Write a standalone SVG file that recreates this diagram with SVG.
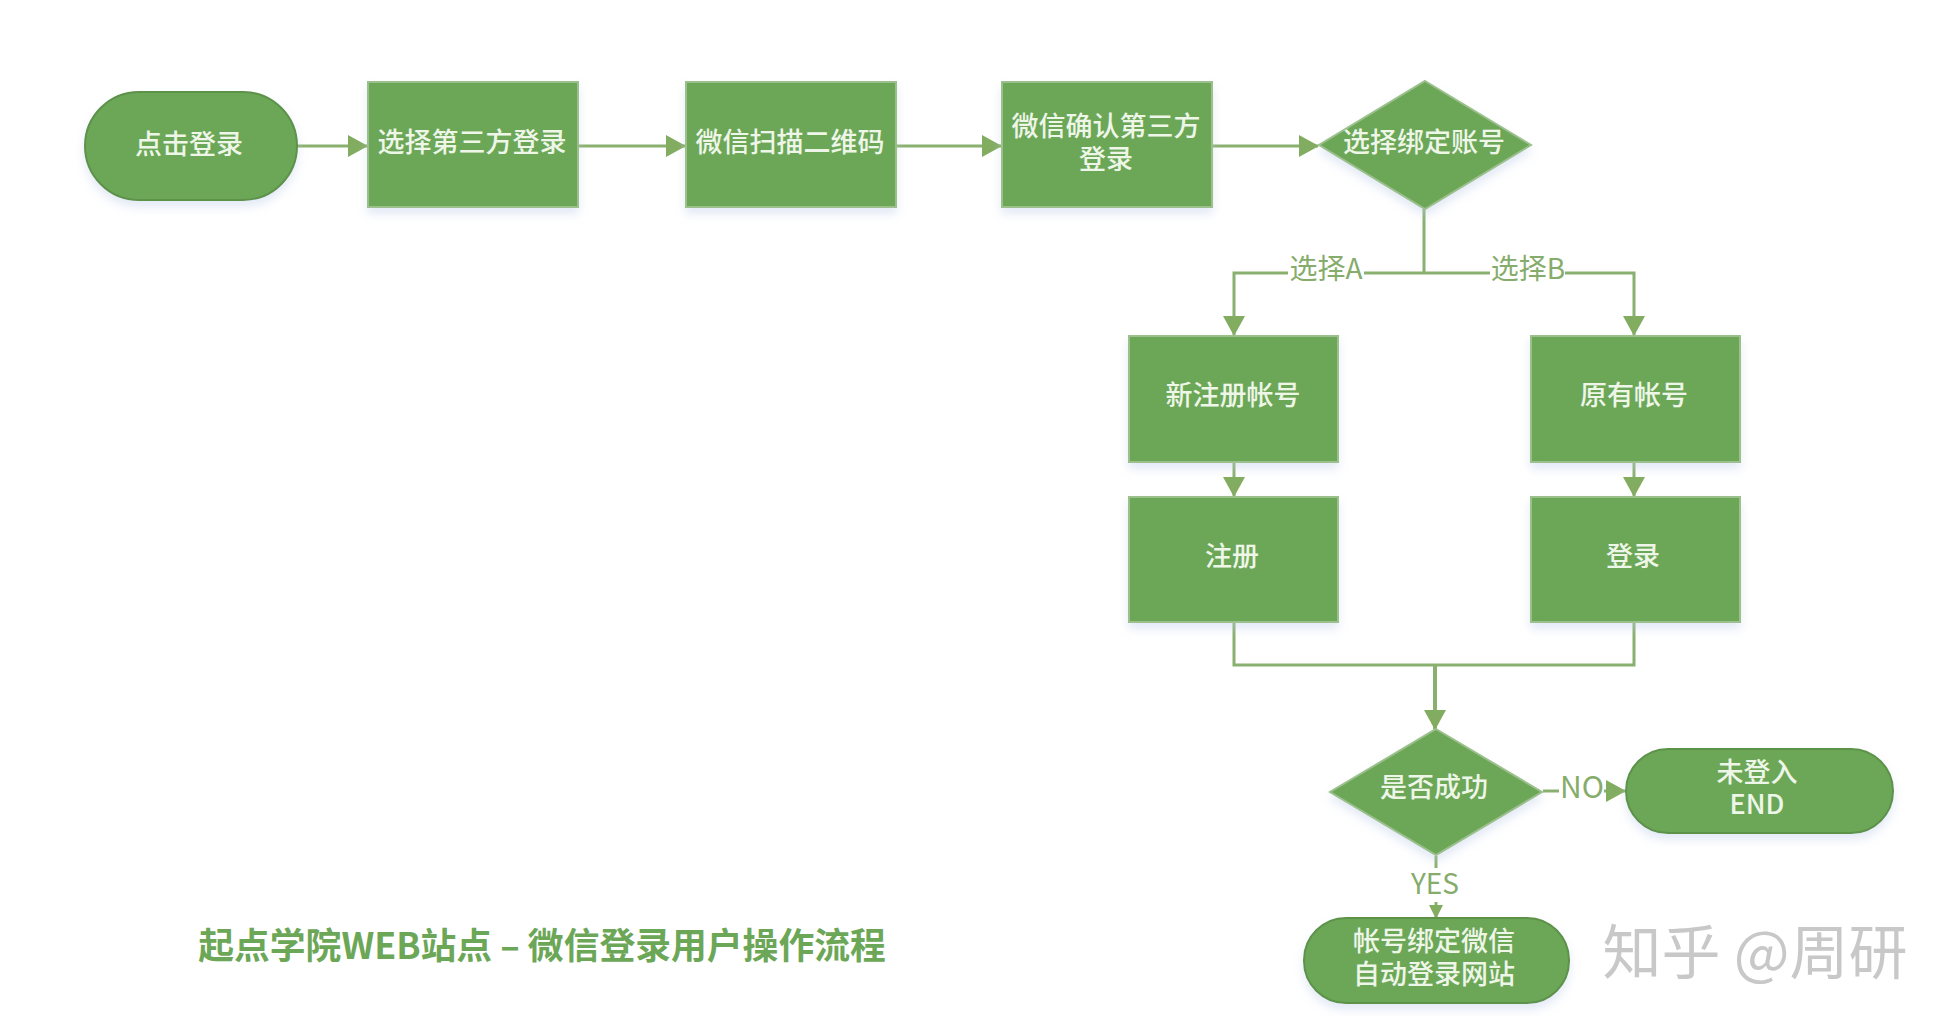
<svg xmlns="http://www.w3.org/2000/svg" width="1958" height="1034" viewBox="0 0 1958 1034">
<style>
text{font-family:"Noto Sans CJK SC","Noto Sans",sans-serif;text-anchor:middle}
.n{fill:#6ca758;stroke:#9cc08c;stroke-width:2;filter:url(#s)}
.p{stroke:#5d9249}
.t{fill:#eef6e8;font-size:27px;font-weight:500}
.c{fill:none;stroke:#8ab06f;stroke-width:3}
.l{fill:#86ac6c;font-size:28px}
.h{fill:#82ac5f}
</style>
<defs>
<filter id="s" x="-10%" y="-10%" width="120%" height="125%"><feDropShadow dx="0" dy="6" stdDeviation="5" flood-color="#b9c9e6" flood-opacity=".4"/></filter>
<marker id="a" markerUnits="userSpaceOnUse" markerWidth="20" markerHeight="24" refX="19" refY="11" orient="auto"><path class="h" d="M0 0L20 11L0 22Z"/></marker>
<marker id="b" markerUnits="userSpaceOnUse" markerWidth="14" markerHeight="16" refX="13" refY="8" orient="auto"><path class="h" d="M0 1L14 8L0 15Z"/></marker>
</defs>
<rect width="1958" height="1034" fill="#fff"/>
<g id="connectors">
<path class="c" marker-end="url(#a)" d="M297 146H367"/>
<path class="c" marker-end="url(#a)" d="M578 146H685"/>
<path class="c" marker-end="url(#a)" d="M897 146H1001"/>
<path class="c" marker-end="url(#a)" d="M1213 146H1318"/>
<path class="c" d="M1424 209V273"/>
<path class="c" marker-end="url(#a)" d="M1424 273H1234V335"/>
<path class="c" marker-end="url(#a)" d="M1424 273H1634V335"/>
<path class="c" marker-end="url(#a)" d="M1234 462V496"/>
<path class="c" marker-end="url(#a)" d="M1634 462V496"/>
<path class="c" d="M1234 622V665H1634V622"/>
<path class="c" style="stroke-width:4" marker-end="url(#a)" d="M1435 665V729"/>
<path class="c" marker-end="url(#a)" d="M1543 791H1625"/>
<path class="c" marker-end="url(#b)" d="M1436 856V918"/>
<g>
<rect x="1288" y="255" width="76" height="36" fill="#fff"/><text class="l" x="1326" y="279">选择A</text>
<rect x="1490" y="255" width="75" height="36" fill="#fff"/><text class="l" x="1528" y="279">选择B</text>
<rect x="1559" y="772" width="45" height="36" fill="#fff"/><text class="l" style="font-size:30px" x="1582" y="798">NO</text>
<rect x="1408" y="868" width="54" height="34" fill="#fff"/><text class="l" x="1435" y="894">YES</text>
</g>
</g>
<g id="start"><rect class="n p" x="85" y="92" width="212" height="108" rx="54"/><text class="t" x="189" y="154">点击登录</text></g>
<g id="choose"><rect class="n" x="368" y="82" width="210" height="125"/><text class="t" x="472" y="152">选择第三方登录</text></g>
<g id="scan"><rect class="n" x="686" y="82" width="210" height="125"/><text class="t" x="790" y="152">微信扫描二维码</text></g>
<g id="confirm"><rect class="n" x="1002" y="82" width="210" height="125"/><text class="t" x="1106" y="136">微信确认第三方<tspan x="1106" dy="33">登录</tspan></text></g>
<g id="bind"><polygon class="n" points="1425,81 1531,145 1425,209 1319,145"/><text class="t" x="1424" y="152">选择绑定账号</text></g>
<g id="new"><rect class="n" x="1129" y="336" width="209" height="126"/><text class="t" x="1233" y="405">新注册帐号</text></g>
<g id="existing"><rect class="n" x="1531" y="336" width="209" height="126"/><text class="t" x="1634" y="405">原有帐号</text></g>
<g id="register"><rect class="n" x="1129" y="497" width="209" height="125"/><text class="t" x="1232" y="566">注册</text></g>
<g id="login"><rect class="n" x="1531" y="497" width="209" height="125"/><text class="t" x="1633" y="566">登录</text></g>
<g id="success"><polygon class="n" points="1436,729 1542,792 1436,855 1330,792"/><text class="t" x="1434" y="797">是否成功</text></g>
<g id="end"><rect class="n p" x="1626" y="749" width="267" height="84" rx="42"/><text class="t" x="1757" y="782">未登入<tspan x="1757" dy="32">END</tspan></text></g>
<g id="done"><rect class="n p" x="1304" y="918" width="265" height="85" rx="42"/><text class="t" x="1434" y="951">帐号绑定微信<tspan x="1434" dy="33">自动登录网站</tspan></text></g>
<text x="542" y="959" font-size="35.8" font-weight="700" fill="#6ca758">起点学院WEB站点 – 微信登录用户操作流程</text>
<text x="1755" y="974" font-size="59" fill="#c8c8c8">知乎 @周研</text>
</svg>
